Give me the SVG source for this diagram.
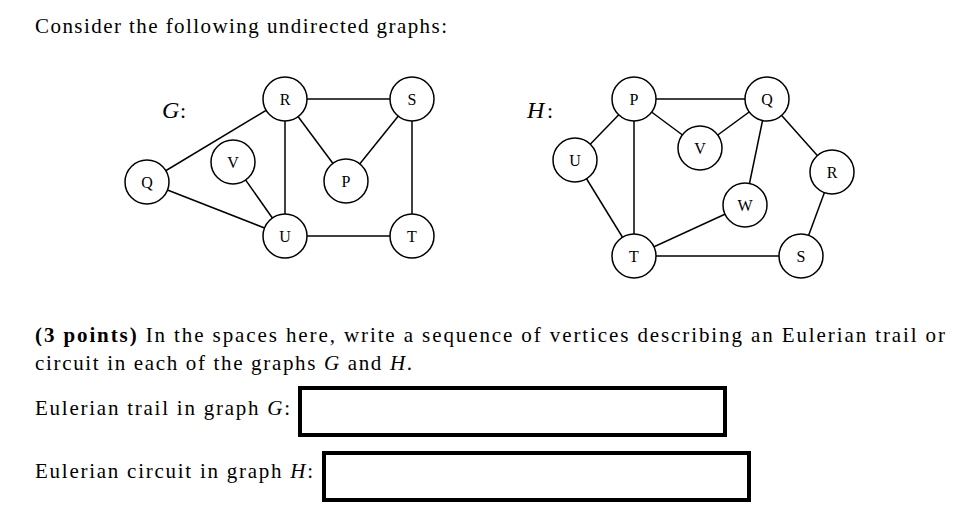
<svg xmlns="http://www.w3.org/2000/svg" width="980" height="530" viewBox="0 0 980 530">
<style>
text{font-family:"Liberation Serif","DejaVu Serif",serif;fill:#000}
.t{font-size:21px}
.n circle{fill:#fff;stroke:#000;stroke-width:1.5}
.n text{font-size:16px;text-anchor:middle;font-weight:normal}
.e line{stroke:#000;stroke-width:1.5}
.box{fill:none;stroke:#000;stroke-width:4}
</style>
<rect width="980" height="530" fill="#fff"/>
<text class="t" x="35" y="33" textLength="412" lengthAdjust="spacing">Consider the following undirected graphs:</text>
<text x="162" y="118" style="font-size:24px;font-style:italic">G</text><text x="180" y="118" style="font-size:22px">:</text>
<text x="527" y="118" style="font-size:24px;font-style:italic">H</text><text x="547" y="118" style="font-size:22px">:</text>
<g class="e" id="edges">
<line x1="285" y1="99" x2="412" y2="99"/><line x1="147" y1="182" x2="285" y2="99"/><line x1="147" y1="182" x2="285" y2="236"/>
<line x1="285" y1="99" x2="285" y2="236"/><line x1="285" y1="99" x2="346" y2="181"/><line x1="346" y1="181" x2="412" y2="99"/>
<line x1="412" y1="99" x2="412" y2="236"/><line x1="285" y1="236" x2="412" y2="236"/><line x1="233" y1="162" x2="285" y2="236"/>
<line x1="634" y1="99" x2="767" y2="99"/><line x1="634" y1="99" x2="575" y2="160"/><line x1="634" y1="99" x2="634" y2="256"/>
<line x1="634" y1="99" x2="700" y2="148"/><line x1="700" y1="148" x2="767" y2="99"/><line x1="767" y1="99" x2="832" y2="172"/>
<line x1="767" y1="99" x2="745" y2="205"/><line x1="832" y1="172" x2="801" y2="256"/><line x1="801" y1="256" x2="634" y2="256"/>
<line x1="634" y1="256" x2="745" y2="205"/><line x1="575" y1="160" x2="634" y2="256"/>
</g>
<g class="n" id="G-R"><circle cx="285" cy="99" r="22"/><text x="285" y="105">R</text></g>
<g class="n" id="G-S"><circle cx="412" cy="99" r="22"/><text x="412" y="105">S</text></g>
<g class="n" id="G-Q"><circle cx="147" cy="182" r="22"/><text x="147" y="188">Q</text></g>
<g class="n" id="G-V"><circle cx="233" cy="162" r="22"/><text x="233" y="168">V</text></g>
<g class="n" id="G-P"><circle cx="346" cy="181" r="22"/><text x="346" y="187">P</text></g>
<g class="n" id="G-U"><circle cx="285" cy="236" r="22"/><text x="285" y="242">U</text></g>
<g class="n" id="G-T"><circle cx="412" cy="236" r="22"/><text x="412" y="242">T</text></g>
<g class="n" id="H-P"><circle cx="634" cy="99" r="22"/><text x="634" y="105">P</text></g>
<g class="n" id="H-Q"><circle cx="767" cy="99" r="22"/><text x="767" y="105">Q</text></g>
<g class="n" id="H-U"><circle cx="575" cy="160" r="22"/><text x="575" y="166">U</text></g>
<g class="n" id="H-V"><circle cx="700" cy="148" r="22"/><text x="700" y="154">V</text></g>
<g class="n" id="H-R"><circle cx="832" cy="172" r="22"/><text x="832" y="178">R</text></g>
<g class="n" id="H-W"><circle cx="745" cy="205" r="22"/><text x="745" y="211">W</text></g>
<g class="n" id="H-T"><circle cx="634" cy="256" r="22"/><text x="634" y="262">T</text></g>
<g class="n" id="H-S"><circle cx="801" cy="256" r="22"/><text x="801" y="262">S</text></g>
<text class="t" x="35" y="342" textLength="910" lengthAdjust="spacing"><tspan font-weight="bold">(3 points)</tspan> In the spaces here, write a sequence of vertices describing an Eulerian trail or</text>
<text class="t" x="35" y="370" textLength="377" lengthAdjust="spacing">circuit in each of the graphs <tspan font-style="italic">G</tspan> and <tspan font-style="italic">H</tspan>.</text>
<text class="t" x="35" y="415" textLength="255" lengthAdjust="spacing">Eulerian trail in graph <tspan font-style="italic">G</tspan>:</text>
<rect class="box" x="300" y="388" width="425" height="47"/>
<text class="t" x="35" y="478" textLength="278" lengthAdjust="spacing">Eulerian circuit in graph <tspan font-style="italic">H</tspan>:</text>
<rect class="box" x="324" y="453" width="425" height="47"/>
</svg>
